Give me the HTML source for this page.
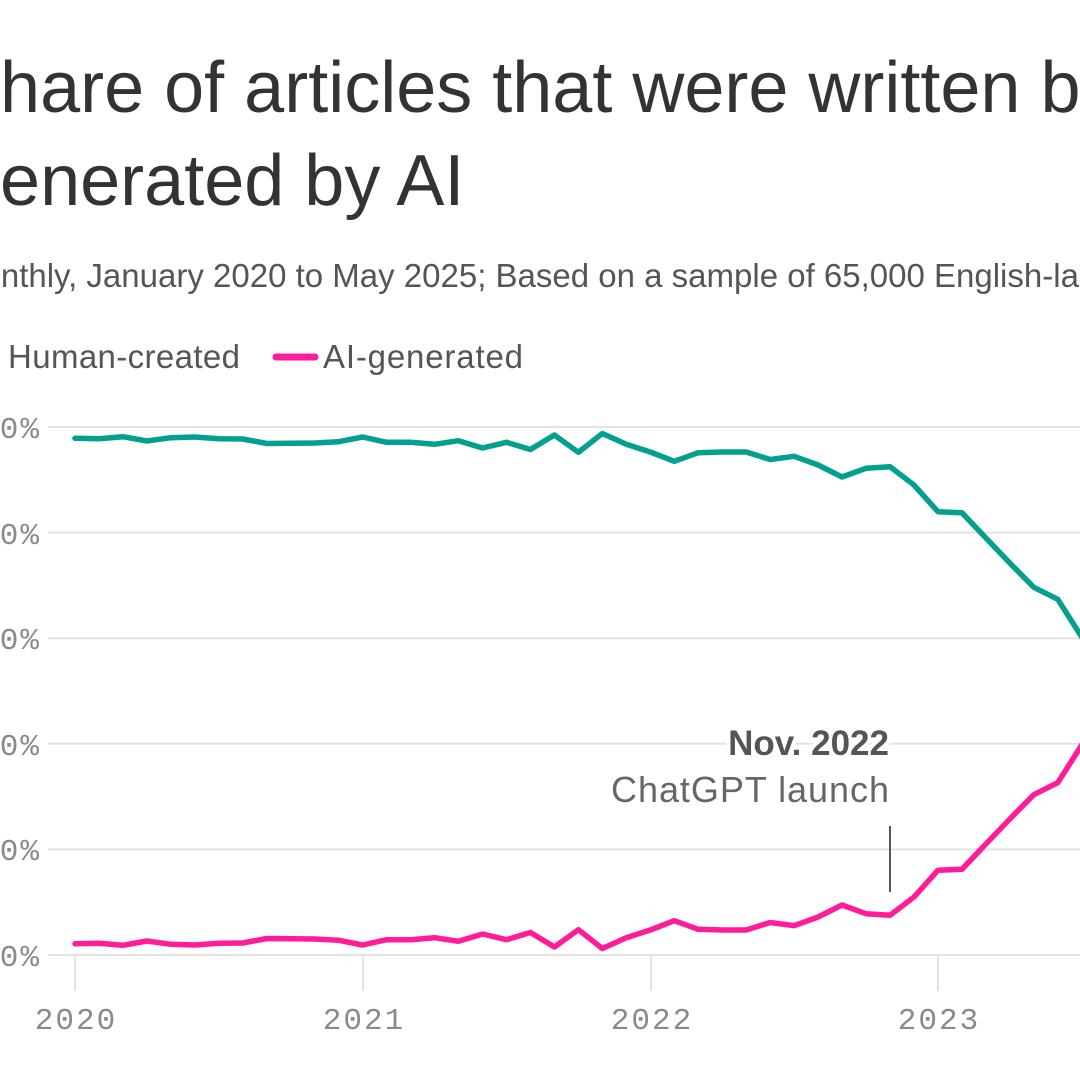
<!DOCTYPE html>
<html>
<head>
<meta charset="utf-8">
<style>
  html, body { margin: 0; padding: 0; background: #ffffff; }
  body { width: 1080px; height: 1080px; overflow: hidden; }
  svg { display: block; }
</style>
</head>
<body>
<svg width="1080" height="1080" viewBox="0 0 1080 1080" xmlns="http://www.w3.org/2000/svg">
  <rect x="0" y="0" width="1080" height="1080" fill="#ffffff"/>

  <!-- Title -->
  <text x="-48" y="112" font-family="Liberation Sans, sans-serif" font-size="72" fill="#333333">Share of articles that were written by humans vs.</text>
  <text x="-40" y="205" font-family="Liberation Sans, sans-serif" font-size="72" fill="#333333">generated by AI</text>

  <!-- Subtitle -->
  <text x="-45" y="287" font-family="Liberation Sans, sans-serif" font-size="33" fill="#555555">Monthly, January 2020 to May 2025; Based on a sample of 65,000 English-language articles</text>

  <!-- Legend -->
  <line x1="-40" y1="357" x2="-4" y2="357" stroke="#04a08f" stroke-width="7" stroke-linecap="round"/>
  <text x="8" y="368" font-family="Liberation Sans, sans-serif" font-size="33" fill="#555555" textLength="232" lengthAdjust="spacing">Human-created</text>
  <line x1="276" y1="357" x2="315" y2="357" stroke="#ff1c9b" stroke-width="7" stroke-linecap="round"/>
  <text x="323" y="368" font-family="Liberation Sans, sans-serif" font-size="33" fill="#555555" textLength="200" lengthAdjust="spacing">AI-generated</text>

  <!-- Gridlines -->
  <g stroke="#e3e3e3" stroke-width="2">
    <line x1="48" y1="427" x2="1080" y2="427"/>
    <line x1="48" y1="532.6" x2="1080" y2="532.6"/>
    <line x1="48" y1="638.2" x2="1080" y2="638.2"/>
    <line x1="48" y1="743.8" x2="1080" y2="743.8"/>
    <line x1="48" y1="849.4" x2="1080" y2="849.4"/>
    <line x1="48" y1="955" x2="1080" y2="955"/>
  </g>

  <!-- Y labels -->
  <g font-family="Liberation Mono, DejaVu Sans Mono, monospace" font-size="31" fill="#8a8a8a" text-anchor="end" letter-spacing="2">
    <text x="41" y="438">100%</text>
    <text x="41" y="544">80%</text>
    <text x="41" y="649">60%</text>
    <text x="41" y="755">40%</text>
    <text x="41" y="860">20%</text>
    <text x="41" y="966">0%</text>
  </g>

  <!-- X ticks -->
  <g stroke="#e3e3e3" stroke-width="2">
    <line x1="75" y1="956" x2="75" y2="991"/>
    <line x1="363" y1="956" x2="363" y2="991"/>
    <line x1="651" y1="956" x2="651" y2="991"/>
    <line x1="938" y1="956" x2="938" y2="991"/>
  </g>

  <!-- X labels -->
  <g font-family="Liberation Mono, DejaVu Sans Mono, monospace" font-size="31" fill="#8a8a8a" text-anchor="middle" letter-spacing="2">
    <text x="76" y="1029">2020</text>
    <text x="364" y="1029">2021</text>
    <text x="652" y="1029">2022</text>
    <text x="939" y="1029">2023</text>
  </g>

  <!-- Annotation -->
  <text x="889" y="755" font-family="Liberation Sans, sans-serif" font-size="35" font-weight="bold" fill="#555555" text-anchor="end" stroke="#ffffff" stroke-width="8" stroke-linejoin="round" paint-order="stroke">Nov. 2022</text>
  <text x="611" y="802" font-family="Liberation Sans, sans-serif" font-size="36" fill="#666666" textLength="278" lengthAdjust="spacing" stroke="#ffffff" stroke-width="6" stroke-linejoin="round" paint-order="stroke">ChatGPT launch</text>
  <line x1="890" y1="826" x2="890" y2="892" stroke="#555555" stroke-width="2"/>

  <!-- Human-created series -->
  <polyline fill="none" stroke="#04a08f" stroke-width="5.5" stroke-linejoin="round" stroke-linecap="round"
    points="75,438.3 99,438.7 122.9,436.7 146.9,441 170.9,437.7 194.9,437 218.8,438.7 242.8,439 266.8,443.5 290.7,443.3 314.7,443 338.7,441.7 362.6,437 386.6,442.3 410.6,442.3 434.6,444.3 458.5,440.7 482.5,448 506.5,442.3 530.4,449.5 554.4,435 578.4,452.3 602.3,433.5 626.3,444.3 650.3,452 674.3,461.3 698.2,452.7 722.2,452 746.2,452 770.1,459.5 794.1,456.3 818.1,465 842,477 866,468.3 890,466.7 914,485 937.9,511.7 961.9,512.7 985.9,538 1009.8,563 1033.8,587.3 1057.8,599.3 1081.7,637 1105.7,680"/>

  <!-- AI-generated series -->
  <polyline fill="none" stroke="#ff1c9b" stroke-width="5.5" stroke-linejoin="round" stroke-linecap="round"
    points="75,943.7 99,943.3 122.9,945.3 146.9,941 170.9,944.3 194.9,945 218.8,943.3 242.8,943 266.8,938.5 290.7,938.7 314.7,939 338.7,940.3 362.6,945 386.6,939.7 410.6,939.7 434.6,937.7 458.5,941.3 482.5,934 506.5,939.7 530.4,932.5 554.4,947 578.4,929.7 602.3,948.5 626.3,937.7 650.3,930 674.3,920.7 698.2,929.3 722.2,930 746.2,930 770.1,922.5 794.1,925.7 818.1,917 842,905 866,913.7 890,915.3 914,897 937.9,870.3 961.9,869.3 985.9,844 1009.8,819 1033.8,794.7 1057.8,782.7 1081.7,745 1105.7,702"/>
</svg>
</body>
</html>
